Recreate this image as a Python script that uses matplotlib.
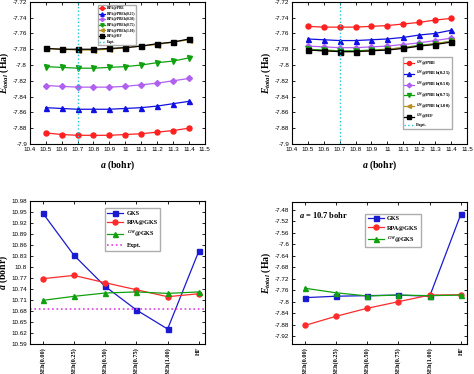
import numpy as np
import matplotlib
matplotlib.use("Agg")
import matplotlib.pyplot as plt
from matplotlib.ticker import FuncFormatter, MultipleLocator

# lattice constants (bohr)
a_vals = [10.5, 10.6, 10.7, 10.8, 10.9, 11.0, 11.1, 11.2, 11.3, 11.4]
a_expt = 10.7

# RPA total energies (Ha)
rpa_pbe = [-7.886, -7.888, -7.889, -7.889, -7.889, -7.888, -7.887, -7.885, -7.883, -7.880]
rpa_h25 = [-7.854, -7.855, -7.856, -7.856, -7.856, -7.855, -7.854, -7.852, -7.849, -7.846]
rpa_h50 = [-7.826, -7.827, -7.828, -7.828, -7.828, -7.827, -7.825, -7.823, -7.820, -7.817]
rpa_h75 = [-7.802, -7.803, -7.804, -7.804, -7.803, -7.802, -7.800, -7.797, -7.795, -7.791]
rpa_h100 = [-7.779, -7.780, -7.781, -7.781, -7.780, -7.778, -7.776, -7.774, -7.771, -7.768]
rpa_hf = [-7.779, -7.780, -7.780, -7.780, -7.779, -7.778, -7.776, -7.773, -7.771, -7.767]

# GW total energies (Ha)
gw_pbe = [-7.751, -7.752, -7.752, -7.752, -7.751, -7.750, -7.748, -7.746, -7.743, -7.741]
gw_h25 = [-7.767, -7.768, -7.769, -7.769, -7.768, -7.767, -7.765, -7.762, -7.760, -7.756]
gw_h50 = [-7.776, -7.777, -7.778, -7.778, -7.777, -7.776, -7.774, -7.772, -7.769, -7.766]
gw_h75 = [-7.780, -7.781, -7.782, -7.782, -7.781, -7.780, -7.778, -7.775, -7.773, -7.770]
gw_h100 = [-7.781, -7.782, -7.783, -7.783, -7.782, -7.780, -7.778, -7.776, -7.773, -7.770]
gw_hf = [-7.781, -7.782, -7.783, -7.783, -7.782, -7.781, -7.779, -7.776, -7.774, -7.771]

# bottom panels
refs = ["PBEh(0.00)", "PBEh(0.25)", "PBEh(0.50)", "PBEh(0.75)", "PBEh(1.00)", "HF"]
lat_gks = [10.947, 10.832, 10.747, 10.683, 10.631, 10.843]
lat_rpa = [10.768, 10.777, 10.757, 10.738, 10.719, 10.727]
lat_gw = [10.709, 10.720, 10.729, 10.732, 10.728, 10.732]
lat_expt = 10.686

e_gks = [-7.786, -7.781, -7.779, -7.777, -7.781, -7.494]
e_rpa = [-7.883, -7.851, -7.823, -7.800, -7.777, -7.776]
e_gw = [-7.753, -7.769, -7.780, -7.777, -7.779, -7.777]

serif = "Liberation Serif"
sans = "Liberation Sans"
plt.rcParams["font.family"] = sans
plt.rcParams["mathtext.fontset"] = "custom"
plt.rcParams["mathtext.rm"] = serif
plt.rcParams["mathtext.it"] = serif + ":italic:bold"
plt.rcParams["mathtext.bf"] = serif + ":bold"

fmt = FuncFormatter(lambda v, p: f"{v:g}".replace("\u2212", "-"))

fig = plt.figure(figsize=(4.74, 3.74), dpi=100)
ax1 = fig.add_axes([0.063, 0.615, 0.369, 0.38])
ax2 = fig.add_axes([0.616, 0.615, 0.369, 0.38])
ax3 = fig.add_axes([0.063, 0.080, 0.369, 0.383])
ax4 = fig.add_axes([0.616, 0.080, 0.369, 0.380])

colors = ["#ff2020", "#1010e0", "#b060f0", "#10a010", "#b89020", "#000000"]
markers = ["o", "^", "D", "v", "<", "s"]
label_kw = dict(fontfamily=serif, fontweight="bold", fontsize=7)


def style(ax):
    ax.tick_params(direction="in", top=True, right=True, labelsize=4.5, length=2.5, width=0.6, pad=2)
    for s in ax.spines.values():
        s.set_linewidth(0.8)
    for lab in ax.get_xticklabels() + ax.get_yticklabels():
        lab.set_fontfamily(sans)


def energy_panel(ax, series, labels):
    for y, lab, c, m in zip(series, labels, colors, markers):
        ax.plot(a_vals, y, color=c, marker=m, ms=3.6 if m != "D" else 3.0, lw=0.9, label=lab)
    ax.axvline(a_expt, color="#20c8d8", ls=":", lw=1.0, label="Expt.")
    ax.set_xlim(10.4, 11.5)
    ax.set_ylim(-7.9, -7.72)
    ax.xaxis.set_major_locator(MultipleLocator(0.1))
    ax.yaxis.set_major_locator(MultipleLocator(0.02))
    ax.xaxis.set_major_formatter(fmt)
    ax.yaxis.set_major_formatter(fmt)
    ax.set_xlabel(r"$a$ (bohr)", labelpad=5, **label_kw)
    ax.set_ylabel(r"$E_{total}$ (Ha)", labelpad=1, **label_kw)
    style(ax)


energy_panel(ax1, [rpa_pbe, rpa_h25, rpa_h50, rpa_h75, rpa_h100, rpa_hf],
             ["RPA@PBE", "RPA@PBEh(0.25)", "RPA@PBEh(0.50)", "RPA@PBEh(0.75)",
              "RPA@PBEh(1.00)", "RPA@HF"])
ax1.legend(loc="upper left", bbox_to_anchor=(0.38, 0.99), frameon=True, fancybox=False,
           edgecolor="0.6", handlelength=1.6, handletextpad=0.4, labelspacing=0.45, borderpad=0.3,
           markerscale=0.7, prop={"family": serif, "weight": "bold", "size": 2.6})

energy_panel(ax2, [gw_pbe, gw_h25, gw_h50, gw_h75, gw_h100, gw_hf],
             [r"$^{GW}$@PBE", r"$^{GW}$@PBEh(0.25)", r"$^{GW}$@PBEh(0.50)", r"$^{GW}$@PBEh(0.75)",
              r"$^{GW}$@PBEh(1.00)", r"$^{GW}$@HF"])
ax2.legend(loc="lower right", bbox_to_anchor=(0.93, 0.09), frameon=True, fancybox=False,
           edgecolor="0.6", handlelength=2.0, handletextpad=0.4, labelspacing=0.1, borderpad=0.35,
           markerscale=0.8, prop={"family": serif, "weight": "bold", "size": 3.4})

x = np.arange(len(refs))

ax3.plot(x, lat_gks, color="#1a1ad0", marker="s", ms=3.6, lw=0.9, label="GKS")
ax3.plot(x, lat_rpa, color="#ff2a2a", marker="o", ms=3.6, lw=0.9, label="RPA@GKS")
ax3.plot(x, lat_gw, color="#10a010", marker="^", ms=3.6, lw=0.9, label=r"$^{GW}$@GKS")
ax3.axhline(lat_expt, color="#e040e0", ls=":", lw=1.2, label="Expt.")
ax3.set_xlim(-0.41, 5.19)
ax3.set_ylim(10.59, 10.98)
ax3.yaxis.set_major_locator(MultipleLocator(0.03))
ax3.yaxis.set_major_formatter(fmt)
ax3.set_xticks(x)
ax3.set_xticklabels(refs)
ax3.set_ylabel(r"$a$ (bohr)", labelpad=1, **label_kw)
style(ax3)
ax3.legend(loc="upper left", bbox_to_anchor=(0.41, 0.97), frameon=True, fancybox=False,
           edgecolor="0.6", handlelength=2.6, handletextpad=0.5, labelspacing=0.6, borderpad=0.4,
           prop={"family": serif, "weight": "bold", "size": 4.5})

ax4.plot(x, e_gks, color="#1a1ad0", marker="s", ms=3.6, lw=0.9, label="GKS")
ax4.plot(x, e_rpa, color="#ff2a2a", marker="o", ms=3.6, lw=0.9, label="RPA@GKS")
ax4.plot(x, e_gw, color="#10a010", marker="^", ms=3.6, lw=0.9, label=r"$^{GW}$@GKS")
ax4.set_xlim(-0.41, 5.19)
ax4.set_ylim(-7.948, -7.452)
ax4.yaxis.set_major_locator(MultipleLocator(0.04))
ax4.yaxis.set_major_formatter(fmt)
ax4.set_xticks(x)
ax4.set_xticklabels(refs)
ax4.set_ylabel(r"$E_{total}$ (Ha)", labelpad=1, **label_kw)
style(ax4)
ax4.text(0.04, 0.94, r"$a$ = 10.7 bohr", transform=ax4.transAxes, ha="left", va="top",
         fontfamily=serif, fontweight="bold", fontsize=6)
ax4.legend(loc="upper left", bbox_to_anchor=(0.40, 0.94), frameon=True, fancybox=False,
           edgecolor="0.6", handlelength=2.6, handletextpad=0.5, labelspacing=0.6, borderpad=0.4,
           prop={"family": serif, "weight": "bold", "size": 4.5})

for ax in (ax3, ax4):
    for lab in ax.get_xticklabels():
        lab.set_rotation(90)
        lab.set_fontfamily(serif)
        lab.set_fontweight("bold")
        lab.set_fontsize(4.5)
        lab.set_va("top")

fig.savefig("out.png", dpi=100)
